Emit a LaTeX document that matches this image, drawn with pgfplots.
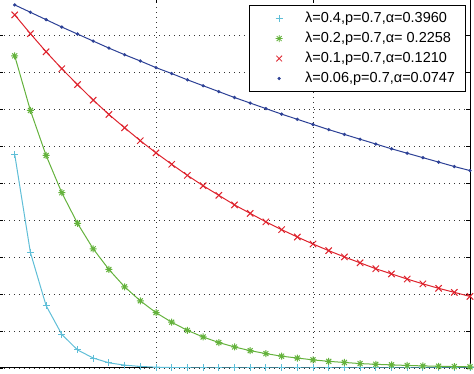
\documentclass[border=0pt]{standalone}
\usepackage{fontspec}
\setmainfont{Liberation Sans}
\usepackage{pgfplots}
\pgfplotsset{compat=1.18}
\definecolor{ccyan}{RGB}{95,190,215}
\definecolor{cgreen}{RGB}{100,178,60}
\definecolor{cred}{RGB}{222,35,45}
\definecolor{cblue}{RGB}{45,65,150}
\pgfdeclareplotmark{mstar}{%
  \pgfpathmoveto{\pgfqpoint{-\pgfplotmarksize}{0pt}}\pgfpathlineto{\pgfqpoint{\pgfplotmarksize}{0pt}}%
  \pgfpathmoveto{\pgfqpoint{0pt}{-\pgfplotmarksize}}\pgfpathlineto{\pgfqpoint{0pt}{\pgfplotmarksize}}%
  \pgfpathmoveto{\pgfqpoint{-.7071\pgfplotmarksize}{-.7071\pgfplotmarksize}}\pgfpathlineto{\pgfqpoint{.7071\pgfplotmarksize}{.7071\pgfplotmarksize}}%
  \pgfpathmoveto{\pgfqpoint{-.7071\pgfplotmarksize}{.7071\pgfplotmarksize}}\pgfpathlineto{\pgfqpoint{.7071\pgfplotmarksize}{-.7071\pgfplotmarksize}}%
  \pgfusepathqstroke}
\begin{document}
\begin{tikzpicture}
\useasboundingbox (1pt,-6pt) rectangle (475pt,368pt);
\clip (1pt,-6pt) rectangle (475pt,368pt);
\begin{axis}[
  at={(0pt,0pt)}, anchor=south west,
  scale only axis, width=471pt, height=369pt,
  xmin=0, xmax=30, ymin=0, ymax=1,
  xtick={0,10,20,30}, ytick={0,0.1,0.2,0.3,0.4,0.5,0.6,0.7,0.8,0.9,1},
  xticklabels={}, yticklabels={},
  tick align=inside, major tick length=4pt,
  tick style={black, line width=0.8pt},
  axis line style={black, line width=1pt},
  grid=major,
  major grid style={black!80, line width=0.8pt, dash pattern=on 0.8pt off 4.2pt},
  legend style={at={(0.9905,0.9835)}, anchor=north east, draw=black, line width=0.9pt,
    font=\fontsize{14.5}{17}\selectfont, inner xsep=10pt, inner ysep=5.5pt,
    row sep=5pt, column sep=16pt,
    nodes={inner sep=0pt, text height=11pt, text depth=4pt}},
  legend cell align=left,
  legend image code/.code={\path[draw=none,fill=none] (-20pt,0pt) rectangle (10pt,0.1pt); \draw[#1] plot coordinates {(0pt,0pt)};},
]
\addplot[ccyan, line width=1pt, mark=+, mark size=3.5pt, forget plot] coordinates {
(1,0.579)(2,0.313)(3,0.169)(4,0.091)(5,0.049)(6,0.027)(7,0.014)(8,0.0078)(9,0.0042)(10,0.0023)
(11,0.0012)(12,0.0007)(13,0.0004)(14,0.0002)(15,0.0001)(16,0.0001)(17,0)(18,0)(19,0)(20,0)
(21,0)(22,0)(23,0)(24,0)(25,0)(26,0)(27,0)(28,0)(29,0)(30,0)};
\addplot[cgreen, line width=1pt, mark=mstar, mark size=3.5pt, forget plot] coordinates {
(1,0.846)(2,0.698)(3,0.576)(4,0.475)(5,0.392)(6,0.323)(7,0.267)(8,0.220)(9,0.182)(10,0.150)
(11,0.124)(12,0.102)(13,0.084)(14,0.069)(15,0.057)(16,0.047)(17,0.039)(18,0.032)(19,0.027)(20,0.022)
(21,0.018)(22,0.015)(23,0.012)(24,0.010)(25,0.0084)(26,0.0069)(27,0.0057)(28,0.0047)(29,0.0039)(30,0.0032)};
\addplot[cred, line width=1pt, mark=x, mark size=4.5pt, forget plot] coordinates {
(1,0.957)(2,0.906)(3,0.857)(4,0.811)(5,0.768)(6,0.726)(7,0.687)(8,0.651)(9,0.616)(10,0.583)
(11,0.552)(12,0.522)(13,0.494)(14,0.468)(15,0.442)(16,0.419)(17,0.396)(18,0.375)(19,0.355)(20,0.336)
(21,0.318)(22,0.301)(23,0.285)(24,0.269)(25,0.255)(26,0.241)(27,0.228)(28,0.216)(29,0.205)(30,0.194)};
\addplot[cblue, line width=1pt, mark=*, mark size=1.1pt, forget plot] coordinates {
(1,0.984)(2,0.964)(3,0.944)(4,0.924)(5,0.905)(6,0.886)(7,0.867)(8,0.849)(9,0.832)(10,0.814)
(11,0.798)(12,0.781)(13,0.765)(14,0.749)(15,0.733)(16,0.718)(17,0.703)(18,0.688)(19,0.674)(20,0.660)
(21,0.646)(22,0.633)(23,0.620)(24,0.607)(25,0.594)(26,0.582)(27,0.570)(28,0.558)(29,0.546)(30,0.535)};
\addlegendimage{only marks, ccyan, mark=+, mark size=3.5pt, line width=0.8pt}
\addlegendentry{λ=0.4,p=0.7,α=0.3960}
\addlegendimage{only marks, cgreen, mark=mstar, mark size=3.5pt, line width=0.8pt}
\addlegendentry{λ=0.2,p=0.7,α= 0.2258}
\addlegendimage{only marks, cred, mark=x, mark size=4pt, line width=0.8pt}
\addlegendentry{λ=0.1,p=0.7,α=0.1210}
\addlegendimage{only marks, cblue, mark=*, mark size=1.1pt}
\addlegendentry{λ=0.06,p=0.7,α=0.0747}
\end{axis}
\end{tikzpicture}
\end{document}
